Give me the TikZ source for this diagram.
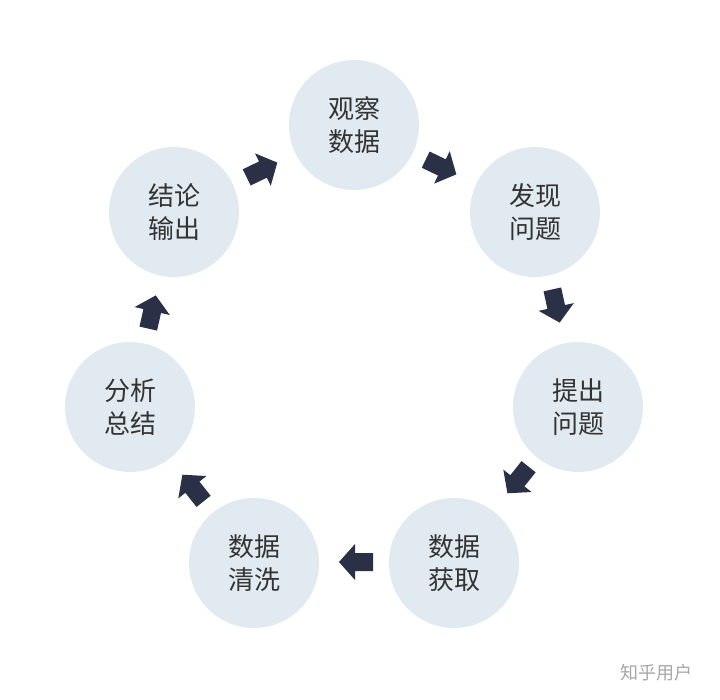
\documentclass[tikz,border=0pt]{standalone}
\usepackage{fontspec}
\newfontfamily\cjk{Noto Sans CJK SC}
\definecolor{cfill}{HTML}{E1EAF0}
\definecolor{arr}{HTML}{2A3147}
\definecolor{txt}{HTML}{333333}
\begin{document}
\begin{tikzpicture}[x=1pt,y=-1pt,
  stage/.style={circle,fill=cfill,minimum size=130pt,inner sep=0pt,font=\cjk\fontsize{26}{33}\selectfont,text=txt,align=center},
  blk/.pic={\fill[arr] (-17pt,-9pt)--(1pt,-9pt)--(1pt,-18pt)--(17pt,0pt)--(1pt,18pt)--(1pt,9pt)--(-17pt,9pt)--cycle;}]
\path[use as bounding box] (0,0) rectangle (720,699);
\node[stage] (a) at (354,125) {观察\\数据};
\node[stage] (b) at (535,212) {发现\\问题};
\node[stage] (c) at (578,407) {提出\\问题};
\node[stage] (d) at (454,563) {数据\\获取};
\node[stage] (e) at (254,563) {数据\\清洗};
\node[stage] (f) at (130,407) {分析\\总结};
\node[stage] (g) at (174,212) {结论\\输出};
\pic[rotate=25.8] (ga) at (262,170) {blk};
\pic[rotate=-25.7] (ab) at (441,167) {blk};
\pic[rotate=-77.6] (bc) at (556,306) {blk};
\pic[rotate=-128.5] (cd) at (518,480) {blk};
\pic[rotate=180] (de) at (356,562) {blk};
\pic[rotate=128.5] (ef) at (193,488) {blk};
\pic[rotate=77.3] (fg) at (152,312) {blk};
\node[font=\cjk\fontsize{18}{20}\selectfont,text=gray!70] (w) at (656,673) {知乎用户};
\end{tikzpicture}
\end{document}
